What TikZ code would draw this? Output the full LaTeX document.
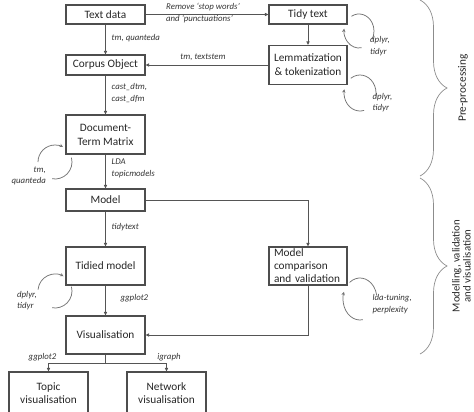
\documentclass[tikz,border=0pt]{standalone}
\usepackage{fontspec}
\setmainfont{Carlito}
\usetikzlibrary{arrows.meta,decorations.pathreplacing}
\definecolor{boxc}{HTML}{4D4D4D}
\definecolor{linec}{HTML}{555555}
\definecolor{arcc}{HTML}{737373}
\begin{document}
\begin{tikzpicture}[x=1pt,y=-1pt,
 box/.style={draw=boxc,line width=1.1pt,minimum width=79pt,inner sep=0pt,align=center,font=\fontsize{11.3}{14}\selectfont,text=black!85},
 conn/.style={draw=linec,line width=0.8pt,-{Triangle[length=3.5pt,width=3.2pt]}},
 lab/.style={font=\fontsize{8.8}{11.5}\selectfont\itshape,text=black!80,inner sep=0pt},
 selfarc/.style={draw=arcc,line width=0.75pt},
 selfarr/.style={draw=arcc,line width=0.75pt,-{Stealth[length=3.5pt,width=3.5pt]}},
 bracel/.style={draw=black!45,line width=0.7pt,decorate,decoration={brace,amplitude=27pt}},
]
\useasboundingbox (0,0) rectangle (474,412);
% boxes
\node[box,minimum height=19pt] (td) at (105.5,14.5) {Text data};
\node[box,minimum height=20pt] (co) at (105.5,65) {Corpus Object};
\node[box,minimum height=39pt] (dtm) at (105.5,134.5) {Document-\\Term Matrix};
\node[box,minimum height=22pt] (mo) at (105.5,200) {Model};
\node[box,minimum height=38pt] (ti) at (105.5,266) {Tidied model};
\node[box,minimum height=38pt] (vi) at (105.5,335) {Visualisation};
\node[box,minimum height=42pt,font=\fontsize{11.3}{13}\selectfont] (tv) at (48.5,393) {Topic\\visualisation};
\node[box,minimum height=42pt,font=\fontsize{11.3}{13}\selectfont] (nv) at (166.5,393) {Network\\visualisation};
\node[box,minimum width=78pt,minimum height=19pt] (tt) at (308,14.5) {Tidy text};
\node[box,minimum width=78pt,minimum height=39pt] (le) at (308,65) {Lemmatization\\\& tokenization};
\node[box,minimum width=78pt,minimum height=38pt,align=left,text width=68pt,font=\fontsize{11.3}{13}\selectfont] (mc) at (308,266) {Model\\comparison\\and validation};
% connectors
\draw[conn] (td.south) -- (co.north);
\draw[conn] (td.east) -- (tt.west);
\draw[conn] (tt.south) -- (le.north);
\draw[conn] (le.west) -- (co.east);
\draw[conn] (co.south) -- (dtm.north);
\draw[conn] (dtm.south) -- (mo.north);
\draw[conn] (mo.south) -- (ti.north);
\draw[conn] (ti.south) -- (vi.north);
\draw[conn] (mo.east) -| (mc.north);
\draw[conn] (mc.south) |- (vi.east);
\coordinate (sp) at (105.5,363);
\draw[draw=linec,line width=0.8pt] (vi.south) -- (sp);
\draw[conn] (sp) -| (tv.north);
\draw[conn] (sp) -| (nv.north);
% connector labels
\node[lab,anchor=west,align=left] at (166,13) {Remove ‘stop words’\\and ‘punctuations’};
\node[lab,anchor=west] at (111.5,38) {tm, quanteda};
\node[lab] at (203,57) {tm, textstem};
\node[lab,anchor=west,align=left] at (111.5,93) {cast\_dtm,\\cast\_dfm};
\node[lab,anchor=west,align=left] at (111.5,168.5) {LDA\\topicmodels};
\node[lab,anchor=west] at (111.5,227) {tidytext};
\node[lab,anchor=west] at (120.5,298) {ggplot2};
\node[lab] at (42.5,357) {ggplot2};
\node[lab] at (169,357) {igraph};
% self loops (angles negated because the y axis points down)
\coordinate (L1) at (359,31);
\draw[selfarc] ([shift={(-120:15 and 17)}]L1) arc[start angle=-120,end angle=30,x radius=15,y radius=17];
\draw[selfarr] ([shift={(-280:15 and 17)}]L1) arc[start angle=-280,end angle=-172,x radius=15,y radius=17];
\node[lab,anchor=west,align=left] at (370,46) {dplyr,\\tidyr};
\coordinate (L2) at (360,93);
\draw[selfarc] ([shift={(-125:16 and 18)}]L2) arc[start angle=-125,end angle=10,x radius=16,y radius=18];
\draw[selfarr] ([shift={(-285:16 and 18)}]L2) arc[start angle=-285,end angle=-168,x radius=16,y radius=18];
\node[lab,anchor=west,align=left] at (372.5,102.5) {dplyr,\\tidyr};
\coordinate (L3) at (55,162);
\draw[selfarr] ([shift={(-180:17 and 17)}]L3) arc[start angle=-180,end angle=-62,x radius=17,y radius=17];
\draw[selfarc] ([shift={(-15:17 and 17)}]L3) arc[start angle=-15,end angle=100,x radius=17,y radius=17];
\node[lab,anchor=east,align=right] at (46,176) {tm,\\quanteda};
\coordinate (L4) at (55,291);
\draw[selfarr] ([shift={(-175:17 and 17)}]L4) arc[start angle=-175,end angle=-60,x radius=17,y radius=17];
\draw[selfarc] ([shift={(-15:17 and 17)}]L4) arc[start angle=-15,end angle=100,x radius=17,y radius=17];
\node[lab,anchor=west,align=left] at (17,300.5) {dplyr,\\tidyr};
\coordinate (L5) at (360,299);
\draw[selfarc] ([shift={(-128:17 and 21)}]L5) arc[start angle=-128,end angle=-10,x radius=17,y radius=21];
\draw[selfarr] ([shift={(-280:17 and 21)}]L5) arc[start angle=-280,end angle=-160,x radius=17,y radius=21];
\node[lab,anchor=west,align=left] at (372.5,304) {lda-tuning,\\perplexity};
% braces
\coordinate (b1t) at (420,0);
\coordinate (b1b) at (420,176);
\coordinate (b2t) at (420,178);
\coordinate (b2b) at (420,354);
\draw[bracel] (b1t) -- (b1b);
\draw[bracel] (b2t) -- (b2b);
\node[rotate=90,font=\fontsize{11.3}{12}\selectfont,text=black!85] (pp) at (463,88) {Pre-processing};
\node[rotate=90,align=center,font=\fontsize{10.8}{11}\selectfont,text=black!85,inner sep=0pt] (mv) at (461.5,266) {Modelling, validation\\and visualisation};
\end{tikzpicture}
\end{document}
